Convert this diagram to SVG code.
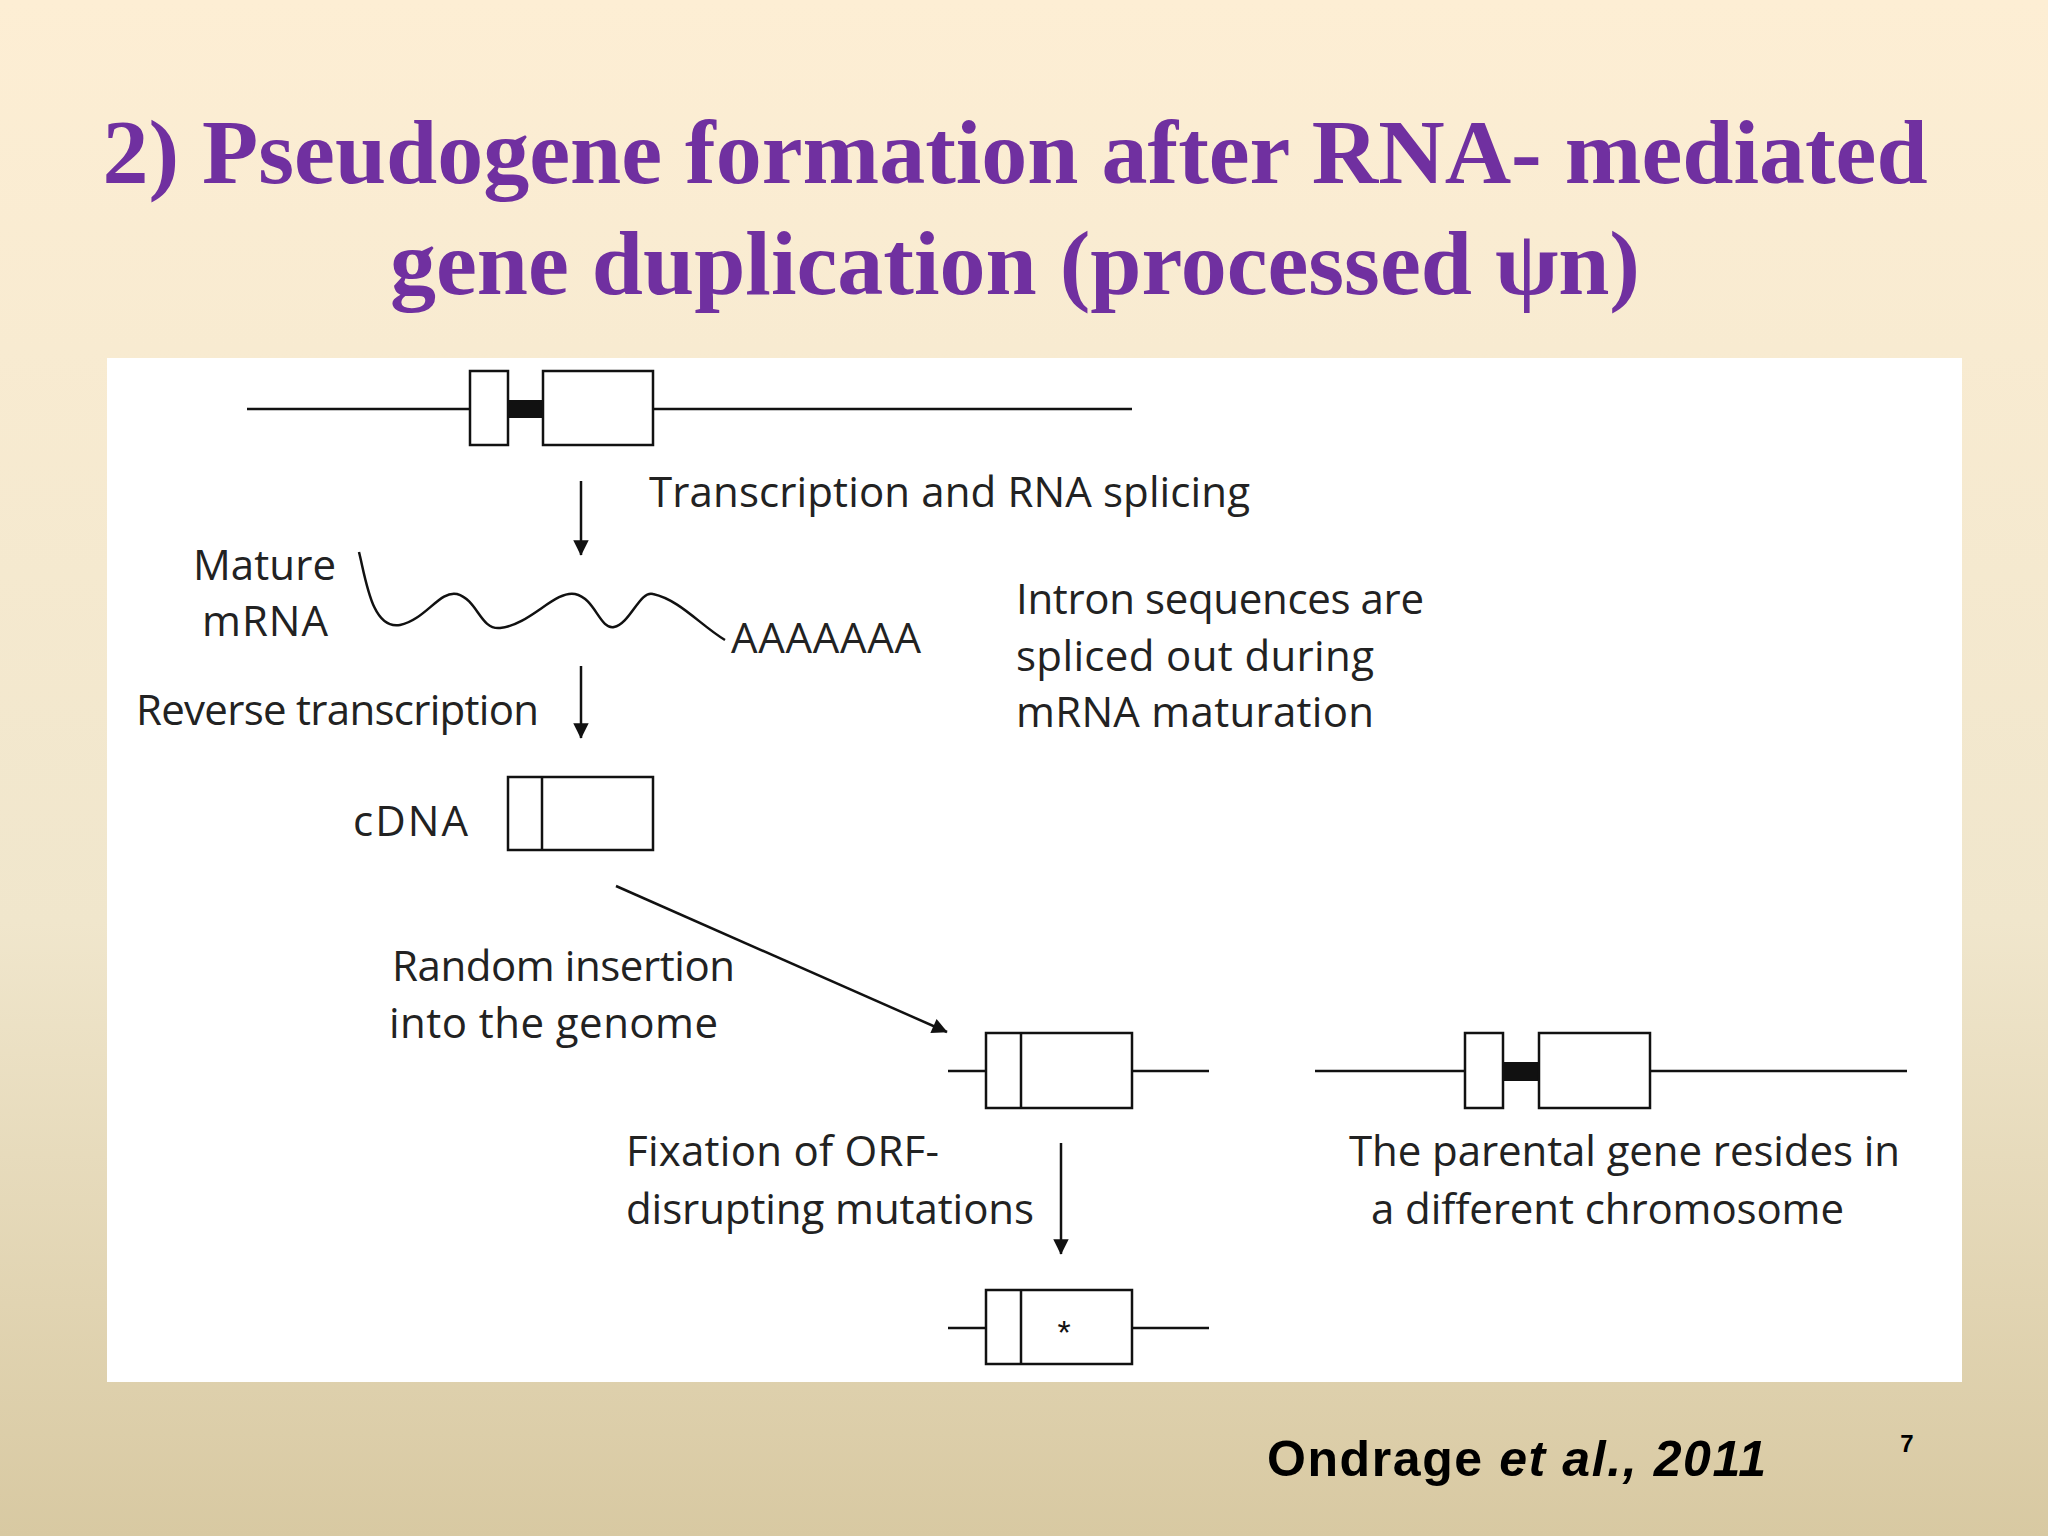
<svg xmlns="http://www.w3.org/2000/svg" width="2048" height="1536" viewBox="0 0 2048 1536">
<defs>
<linearGradient id="bg" x1="0" y1="0" x2="0" y2="1">
<stop offset="0" stop-color="#fdeed4"/><stop offset="0.6" stop-color="#f0e6cc"/><stop offset="1" stop-color="#d8c9a2"/>
</linearGradient>
<marker id="ah" viewBox="0 0 10 10" refX="9" refY="5" markerWidth="7" markerHeight="7" markerUnits="userSpaceOnUse" orient="auto" style="overflow:visible">
<path d="M0,0 L10,5 L0,10 z" fill="#111" transform="scale(2.2) translate(-5.5,-2.7)"/>
</marker>
<style>
.ln{stroke:#111;stroke-width:2.5;fill:none}
.bx{stroke:#111;stroke-width:2.5;fill:#fff}
.t{font-family:"Open Sans","Liberation Sans",sans-serif;font-size:42px;fill:#222}
.ti{font-family:"Liberation Serif",serif;font-weight:bold;font-size:92px;fill:#7030a0;text-anchor:middle}
</style>
</defs>
<rect width="2048" height="1536" fill="url(#bg)"/>
<text class="ti" x="1015" y="183">2) Pseudogene formation after RNA- mediated</text>
<text class="ti" x="1015" y="294">gene duplication (processed ψn)</text>
<rect x="107" y="358" width="1855" height="1024" fill="#fff"/>
<g id="gene1">
<line class="ln" x1="247" y1="409" x2="1132" y2="409"/>
<rect class="bx" x="470" y="371" width="38" height="74"/>
<rect x="508" y="400" width="35" height="18" fill="#111"/>
<rect class="bx" x="543" y="371" width="110" height="74"/>
</g>
<g id="mrna">
<path class="ln" stroke-width="2" d="M359,552 C366,580 372,630 400,625 C425,620 440,590 457,594 C478,600 480,630 500,628 C530,625 555,590 575,594 C595,598 600,630 614,627 C630,624 640,590 653,594 C680,600 700,625 725,640"/>
<text class="t" x="193" y="580" textLength="143">Mature</text>
<text class="t" x="202" y="636" textLength="126">mRNA</text>
<text class="t" x="731" y="653" textLength="190">AAAAAAA</text>
</g>
<g id="cdna">
<text class="t" x="353" y="836" textLength="115">cDNA</text>
<rect class="bx" x="508" y="777" width="145" height="73"/>
<line class="ln" x1="542" y1="777" x2="542" y2="850"/>
</g>
<g id="gene2">
<line class="ln" x1="948" y1="1071" x2="1209" y2="1071"/>
<rect class="bx" x="986" y="1033" width="146" height="75"/>
<line class="ln" x1="1021" y1="1033" x2="1021" y2="1108"/>
</g>
<g id="gene3">
<line class="ln" x1="948" y1="1328" x2="1209" y2="1328"/>
<rect class="bx" x="986" y="1290" width="146" height="74"/>
<line class="ln" x1="1021" y1="1290" x2="1021" y2="1364"/>
<text x="1064" y="1344" font-family="Liberation Sans,sans-serif" font-size="34" text-anchor="middle" fill="#111">*</text>
</g>
<g id="parental">
<line class="ln" x1="1315" y1="1071" x2="1907" y2="1071"/>
<rect class="bx" x="1465" y="1033" width="38" height="75"/>
<rect x="1503" y="1062" width="36" height="19" fill="#111"/>
<rect class="bx" x="1539" y="1033" width="111" height="75"/>
<text class="t" x="1349" y="1166" textLength="551">The parental gene resides in</text>
<text class="t" x="1371" y="1224" textLength="473">a different chromosome</text>
</g>
<g id="connectors">
<line class="ln" x1="581" y1="481" x2="581" y2="555" marker-end="url(#ah)"/>
<line class="ln" x1="581" y1="666" x2="581" y2="738" marker-end="url(#ah)"/>
<line class="ln" x1="616" y1="886" x2="947" y2="1032" marker-end="url(#ah)"/>
<line class="ln" x1="1061" y1="1143" x2="1061" y2="1254" marker-end="url(#ah)"/>
</g>
<g id="labels">
<text class="t" x="649" y="507" textLength="601">Transcription and RNA splicing</text>
<text class="t" x="136" y="725" textLength="403">Reverse transcription</text>
<text class="t" x="1016" y="614" textLength="408">Intron sequences are</text>
<text class="t" x="1016" y="671" textLength="358">spliced out during</text>
<text class="t" x="1016" y="727" textLength="358">mRNA maturation</text>
<text class="t" x="392" y="981" textLength="343">Random insertion</text>
<text class="t" x="389" y="1038" textLength="329">into the genome</text>
<text class="t" x="626" y="1166" textLength="313">Fixation of ORF-</text>
<text class="t" x="626" y="1224" textLength="408">disrupting mutations</text>
</g>
<text x="1267" y="1476" font-family="Liberation Sans,sans-serif" font-weight="bold" font-size="50" fill="#000" textLength="499">Ondrage <tspan font-style="italic">et al., 2011</tspan></text>
<text x="1907" y="1452" font-family="Liberation Sans,sans-serif" font-weight="bold" font-size="24" fill="#000" text-anchor="middle">7</text>
</svg>
